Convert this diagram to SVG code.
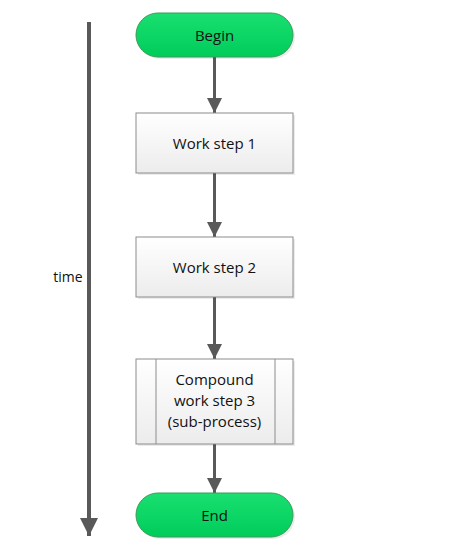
<svg xmlns="http://www.w3.org/2000/svg" width="461" height="554" viewBox="0 0 461 554">
<defs>
<linearGradient id="gGreen" x1="0" y1="0" x2="0" y2="1">
<stop offset="0" stop-color="#19e070"/>
<stop offset="1" stop-color="#00cc5a"/>
</linearGradient>
<linearGradient id="gGray" x1="0" y1="0" x2="0" y2="1">
<stop offset="0" stop-color="#ffffff"/>
<stop offset="1" stop-color="#ececec"/>
</linearGradient>
<marker id="arr" markerWidth="15" markerHeight="16" refX="15" refY="7.5" orient="auto" markerUnits="userSpaceOnUse" viewBox="0 0 15 15">
<path d="M0,0 L15,7.5 L0,15 Z" fill="#595959"/>
</marker>
<marker id="arrBig" markerWidth="18" markerHeight="18" refX="18" refY="9" orient="auto" markerUnits="userSpaceOnUse" viewBox="0 0 18 18">
<path d="M0,0 L18,9 L0,18 Z" fill="#595959"/>
</marker>
</defs>
<style>
.term{fill:url(#gGreen);stroke:#3a9a5a;stroke-width:1}
.box{fill:url(#gGray);stroke:#8c8c8c;stroke-width:1}
.shadow{fill:#000;opacity:0.08}
.lbl{font-family:"Open Sans","Liberation Sans",sans-serif;font-size:15px;fill:#111111;text-anchor:middle}
.tl{font-size:14px}
.con{stroke:#595959;stroke-width:3;fill:none}
</style>
<rect width="461" height="554" fill="#ffffff"/>
<g id="connectors">
<line class="con" x1="214.5" y1="57" x2="214.5" y2="113" marker-end="url(#arr)"/>
<line class="con" x1="214.5" y1="173" x2="214.5" y2="237" marker-end="url(#arr)"/>
<line class="con" x1="214.5" y1="297" x2="214.5" y2="359" marker-end="url(#arr)"/>
<line class="con" x1="214.5" y1="444" x2="214.5" y2="493" marker-end="url(#arr)"/>
</g>
<g id="timeline">
<line x1="89" y1="22" x2="89" y2="536" stroke="#595959" stroke-width="4" marker-end="url(#arrBig)"/>
<text class="lbl tl" x="68" y="282">time</text>
</g>
<g id="begin">
<rect class="shadow" x="138" y="15" width="157" height="44" rx="22"/>
<rect class="term" x="136" y="13" width="157" height="44" rx="22"/>
<text class="lbl" x="214.5" y="40.5">Begin</text>
</g>
<g id="step1">
<rect class="shadow" x="138" y="115" width="157" height="60"/>
<rect class="box" x="136" y="113" width="157" height="60"/>
<text class="lbl" x="214.5" y="148.5">Work step 1</text>
</g>
<g id="step2">
<rect class="shadow" x="138" y="239" width="157" height="60"/>
<rect class="box" x="136" y="237" width="157" height="60"/>
<text class="lbl" x="214.5" y="272.5">Work step 2</text>
</g>
<g id="step3">
<rect class="shadow" x="138" y="361" width="157" height="85"/>
<rect class="box" x="136" y="359" width="157" height="85"/>
<line x1="156" y1="359" x2="156" y2="444" stroke="#8c8c8c" stroke-width="1"/>
<line x1="275" y1="359" x2="275" y2="444" stroke="#8c8c8c" stroke-width="1"/>
<text class="lbl" x="214.5" y="385">Compound</text>
<text class="lbl" x="214.5" y="406">work step 3</text>
<text class="lbl" x="214.5" y="427">(sub-process)</text>
</g>
<g id="end">
<rect class="shadow" x="138" y="495" width="157" height="44" rx="22"/>
<rect class="term" x="136" y="493" width="157" height="44" rx="22"/>
<text class="lbl" x="214.5" y="520.5">End</text>
</g>
</svg>
